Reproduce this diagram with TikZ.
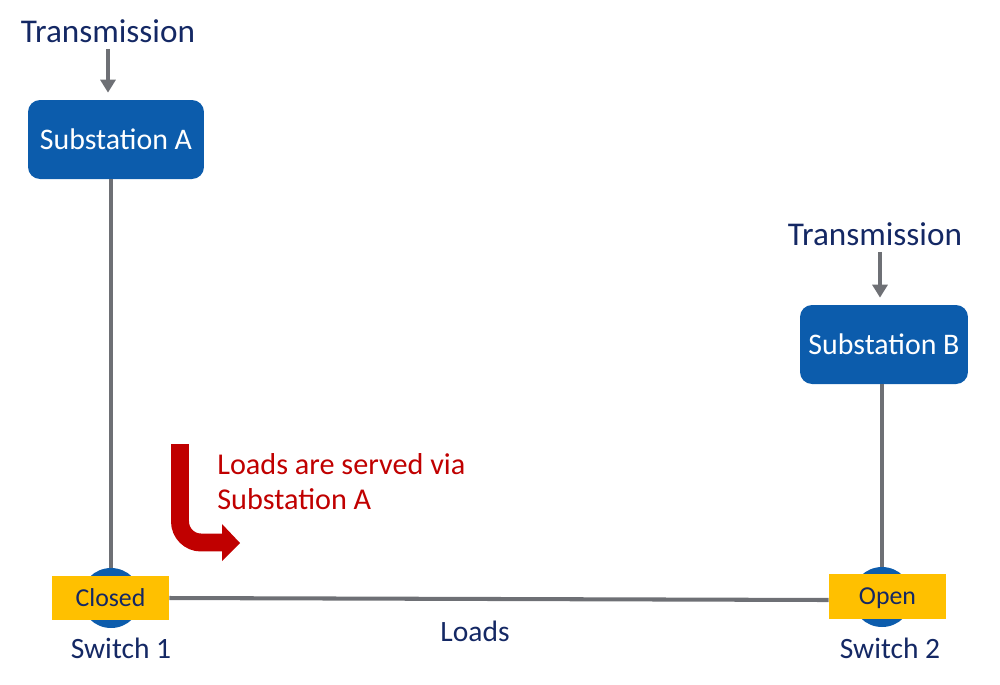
\documentclass[tikz,border=0pt]{standalone}
\usepackage{fontspec}
\setmainfont{Carlito}
\usetikzlibrary{arrows.meta,calc}
\definecolor{navy}{RGB}{20,40,100}
\definecolor{boxblue}{RGB}{12,92,172}
\definecolor{linegray}{RGB}{110,112,117}
\definecolor{swyellow}{RGB}{255,192,0}
\definecolor{redarr}{RGB}{192,0,0}
\tikzset{
  subbox/.style={draw=none, fill=boxblue, rounded corners=0.24cm, text=white, font=\fontsize{17}{20}\selectfont, minimum height=1.58cm, inner sep=0pt},
  swcircle/.style={circle, fill=boxblue, minimum size=1.2cm, inner sep=0pt},
  swrect/.style={fill=swyellow, minimum width=2.34cm, minimum height=0.89cm, inner sep=0pt, text=navy, font=\fontsize{14.7}{17}\selectfont, text depth=0pt},
  lbl/.style={text=navy, font=\fontsize{16.8}{20}\selectfont, inner sep=0pt},
  translbl/.style={text=navy, font=\fontsize{18.9}{22}\selectfont, inner sep=0pt},
  wire/.style={draw=linegray, line width=2.3pt},
  feed/.style={draw=linegray, line width=1.8pt, -{Triangle[length=0.26cm,width=0.3cm]}},
}
\begin{document}
\begin{tikzpicture}[x=0.02cm,y=-0.02cm]
\useasboundingbox (0,0) rectangle (1000,684);
% nodes
\node[translbl] (transA) at (108,31) {Transmission};
\node[subbox, minimum width=3.52cm] (subA) at (116,139.5) {Substation A};
\node[translbl] (transB) at (875,234) {Transmission};
\node[subbox, minimum width=3.36cm] (subB) at (884,344.5) {Substation B};
\node[swcircle] (sw1c) at (111,598) {};
\node[swcircle] (sw2c) at (882,597) {};
% wires
\draw[wire] (sw1c.north |- subA.south) -- (sw1c.north);
\draw[wire] (sw2c.north |- subB.south) -- (sw2c.north);
\draw[feed, shorten <=0.12cm, shorten >=0.14cm] (transA.south) -- (transA.south |- subA.north);
\draw[feed, shorten <=0.12cm, shorten >=0.14cm] ([xshift=0.1cm]transB.south) -- ([xshift=0.1cm]transB.south |- subB.north);
% switch rectangles
\node[swrect] (sw1) at (110.5,598) {Closed};
\node[swrect] (sw2) at (887.5,596.5) {Open};
\draw[wire] (sw1.east) -- ([yshift=-0.07cm]sw2.west);
% labels
\node[lbl] (s1lbl) at (121,648) {Switch 1};
\node[lbl] (s2lbl) at (890,648) {Switch 2};
\node[lbl] (loads) at (475,631) {Loads};
% red arrow
\draw[redarr, line width=10.2pt, rounded corners=0.42cm] (180,444) -- (180,542.5) -- (223,542.5);
\fill[redarr] (222,524) -- (240,543) -- (222,561) -- cycle;
\node[anchor=west, align=left, text=redarr, font=\fontsize{17.2}{19.9}\selectfont, inner sep=0pt] (note) at (217,482) {Loads are served via\\Substation A};
\end{tikzpicture}
\end{document}
